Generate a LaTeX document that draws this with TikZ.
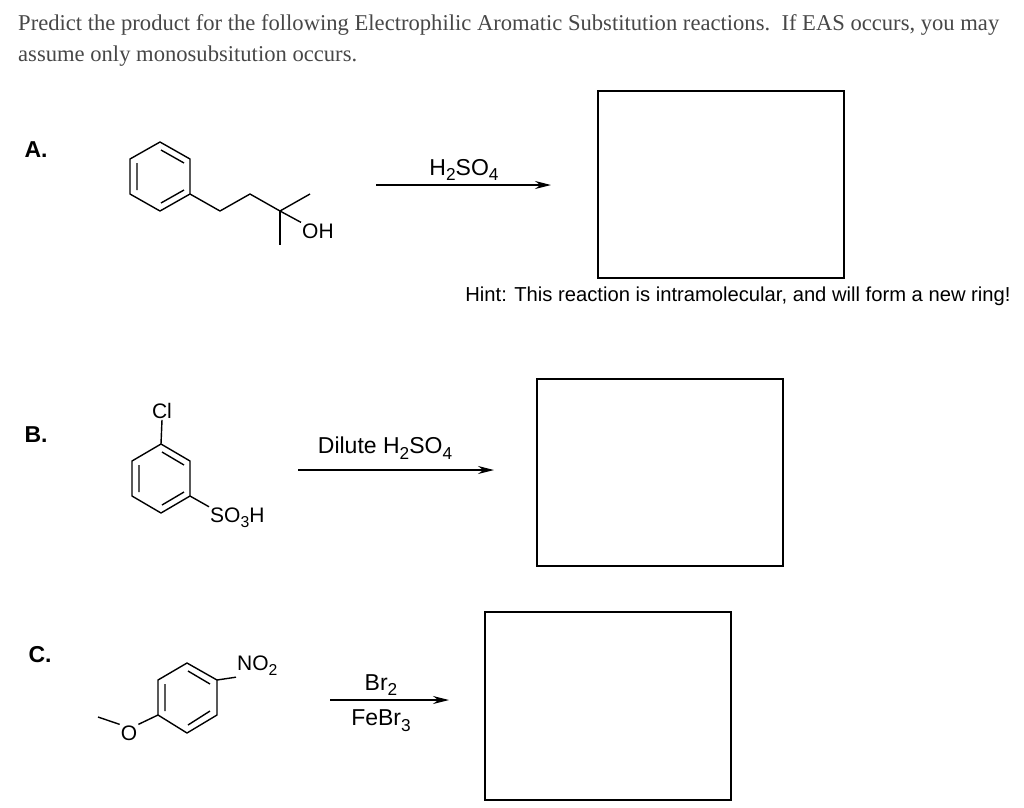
\documentclass[tikz,border=0pt]{standalone}
\usepackage{fontspec}
\setmainfont{Liberation Serif}
\setsansfont{Liberation Sans}
\usetikzlibrary{arrows.meta}
\newcommand{\sbs}[1]{\raisebox{-0.25em}{\fontsize{0.75em}{1em}\selectfont #1}}
\begin{document}
\begin{tikzpicture}[x=1pt,y=-1pt,
  bond/.style={line width=1.4pt,line join=round},
  rxn/.style={line width=1.3pt,-{Stealth[length=16pt,width=8pt]}},
  ans/.style={draw,line width=1.2pt},
  lbl/.style={font=\sffamily\fontsize{23}{26}\selectfont,inner sep=0pt},
  blbl/.style={font=\sffamily\bfseries\fontsize{23}{26}\selectfont,inner sep=0pt},
  atom/.style={font=\sffamily\fontsize{21}{24}\selectfont,inner sep=1pt},
  head/.style={font=\fontsize{22.6}{26}\selectfont,text=black!72,anchor=west,inner sep=0pt}]
\useasboundingbox (0,0) rectangle (1024,807);
\node[head] (h1) at (18,25) {Predict the product for the following Electrophilic Aromatic Substitution reactions.\ \ If EAS occurs, you may};
\node[head] (h2) at (18,56) {assume only monosubsitution occurs.};
% A
\node[blbl] (la) at (36,150) {A.};
\draw[bond] (160,142)--(190,159)--(190,194)--(160,211)--(130,194)--(130,159)--cycle;
\draw[bond] (161,150)--(184,163) (184,190)--(161,203) (137,163)--(137,190);
\draw[bond] (190,194)--(220,211)--(250,194)--(280,211)--(310,194);
\draw[bond] (280,211)--(280,245);
\node[atom,anchor=west] (oh) at (301,231) {OH};
\draw[bond] (280,211)--(oh.north west);
\coordinate (a1) at (376,185); \coordinate (a2) at (551,185);
\draw[rxn] (a1)--(a2);
\node[lbl] (ra) at (464,170) {H\sbs{2}SO\sbs{4}};
\node[ans,minimum width=246pt,minimum height=187pt] (ba) at (721,184.5) {};
\node[font=\sffamily\fontsize{20.2}{22}\selectfont,inner sep=0pt] (hint) at (738,296) {Hint: This reaction is intramolecular, and will form a new ring!};
% B
\node[blbl] (lb) at (36,435) {B.};
\node[atom] (cl) at (162,411) {Cl};
\draw[bond] (cl.south)--(161,444);
\draw[bond] (161,444)--(190,461)--(190,496)--(161,513)--(132,496)--(132,461)--cycle;
\draw[bond] (162,452)--(184,465) (184,492)--(162,505) (139,465)--(139,492);
\node[atom,anchor=west] (so) at (209,518) {SO\sbs{3}H};
\draw[bond] (190,496)--(so.north west);
\coordinate (b1) at (298,470); \coordinate (b2) at (494,470);
\draw[rxn] (b1)--(b2);
\node[lbl] (rb) at (385,448) {Dilute H\sbs{2}SO\sbs{4}};
\node[ans,minimum width=246pt,minimum height=187pt] (bb) at (660,472.5) {};
% C
\node[blbl] (lc) at (40,655) {C.};
\draw[bond] (187,663)--(217,680)--(217,715)--(187,733)--(158,715)--(158,680)--cycle;
\draw[bond] (188,671)--(210,684) (210,711)--(188,725) (165,684)--(165,711);
\node[atom,anchor=west] (no) at (236,666) {NO\sbs{2}};
\draw[bond] (217,680)--(no.south west);
\node[atom] (o) at (129,733) {O};
\draw[bond] (158,715)--(o.north east);
\draw[bond] (o.north west)--(98,717);
\coordinate (c1) at (330,700); \coordinate (c2) at (449,700);
\draw[rxn] (c1)--(c2);
\node[lbl] (rc1) at (381,685) {Br\sbs{2}};
\node[lbl] (rc2) at (381,721) {FeBr\sbs{3}};
\node[ans,minimum width=246pt,minimum height=188pt] (bc) at (608,706) {};
\end{tikzpicture}
\end{document}
